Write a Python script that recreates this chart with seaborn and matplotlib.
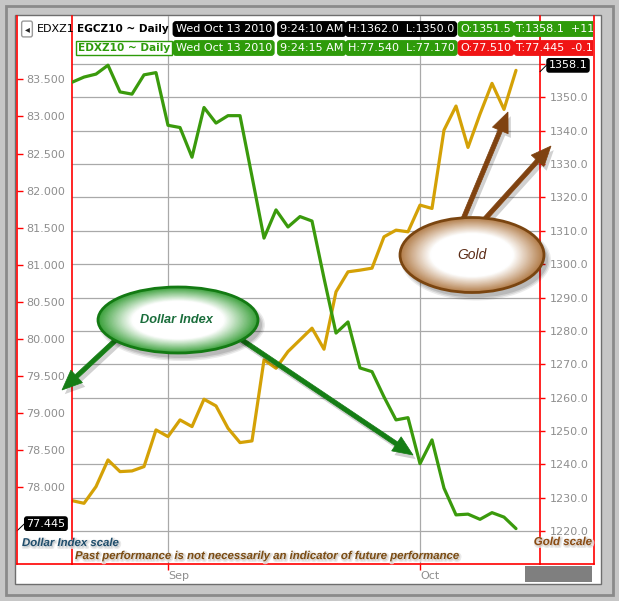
"""
Dollar Index vs Gold daily chart (Aug - Oct 2010), two price scales.
"""

import numpy as np
import pandas as pd
import matplotlib
matplotlib.use('Agg')
import matplotlib.pyplot as plt
import matplotlib.patheffects as pe
from matplotlib.patches import Ellipse, Rectangle
from matplotlib.colors import to_rgb
from matplotlib.transforms import blended_transform_factory, Bbox
import seaborn as sns

sns.set_style("white")
plt.rcParams['font.family'] = ['DejaVu Sans']

# ---- data ----
trade_dates = pd.bdate_range('2010-08-20', '2010-10-13').drop(pd.Timestamp('2010-09-06'))
dollar_index = [83.46, 83.53, 83.57, 83.69, 83.33, 83.30, 83.56, 83.59, 82.88, 82.85,
                82.45, 83.12, 82.91, 83.01, 83.01, 82.19, 81.36, 81.74, 81.51, 81.65,
                81.59, 80.82, 80.08, 80.23, 79.61, 79.56, 79.22, 78.91, 78.94, 78.32,
                78.64, 77.99, 77.63, 77.64, 77.57, 77.66, 77.60, 77.445]
gold_price = [1229.1, 1228.3, 1233.3, 1241.3, 1237.8, 1238.0, 1239.3, 1250.3, 1248.3, 1253.3,
              1251.3, 1259.5, 1257.5, 1250.8, 1246.5, 1247.0, 1271.3, 1268.8, 1273.8, 1277.3,
              1280.8, 1274.5, 1291.7, 1297.7, 1298.2, 1298.8, 1308.2, 1310.2, 1309.7, 1317.7,
              1316.7, 1340.2, 1347.4, 1335.0, 1345.0, 1354.2, 1346.4, 1358.1]
month_starts = ['2010-09-01', '2010-10-01']
month_labels = ['Sep', 'Oct']
gold_ticks = [1220, 1230, 1240, 1250, 1260, 1270, 1280, 1290, 1300, 1310, 1320, 1330, 1340, 1350, 1360]
dollar_ticks = [78.0, 78.5, 79.0, 79.5, 80.0, 80.5, 81.0, 81.5, 82.0, 82.5, 83.0, 83.5]

header_row1 = [('Wed Oct 13 2010', 'black'), ('9:24:10 AM', 'black'),
               ('H:1362.0  L:1350.0', 'black'), ('O:1351.5', '#2e9b0a'),
               ('T:1358.1  +11', '#2e9b0a')]
header_row2 = [('Wed Oct 13 2010', '#2e9b0a'), ('9:24:15 AM', '#2e9b0a'),
               ('H:77.540  L:77.170', '#2e9b0a'), ('O:77.510', '#f01414'),
               ('T:77.445  -0.1', '#f01414')]

GREEN = '#3a9a0c'
GOLD = '#d4a106'
TICK_GRAY = '#8e8e8e'
W, H = 619, 601
L, R, T, B = 72, 540, 16, 564

fig = plt.figure(figsize=(W / 100, H / 100), dpi=100, facecolor='#c6c6c6')

# window frame
bg = fig.add_axes([0, 0, 1, 1], zorder=0)
bg.set_xlim(0, W)
bg.set_ylim(H, 0)
bg.axis('off')
bg.add_patch(Rectangle((6, 6), W - 12, H - 12, fill=False, ec='#8a8a8a', lw=2))
bg.add_patch(Rectangle((15, 15), 586, 569, fc='white', ec='#6e6e6e', lw=1))
bg.add_patch(Rectangle((525, 566), 67, 16, fc='#7f7f7f', lw=0))

# main plot: gold on ax (right scale), dollar on twin (left scale)
ax = fig.add_axes([L / W, 1 - B / H, (R - L) / W, (B - T) / H], zorder=1)
ax.set_facecolor('none')
x = np.arange(len(trade_dates))
sns.lineplot(x=x, y=gold_price, ax=ax, color=GOLD, lw=2.3)
ax2 = ax.twinx()
ax2.set_zorder(2)
sns.lineplot(x=x, y=dollar_index, ax=ax2, color=GREEN, lw=2.3)

ax.set_xlim(0, 39)
ax.set_ylim(1210.1, 1374.4)
ax2.set_ylim(76.968, 84.353)
for a in (ax, ax2):
    a.set_xlabel('')
    a.set_ylabel('')

ax.yaxis.tick_right()
ax.set_yticks(gold_ticks)
ax.set_yticklabels([f'{v:.1f}' for v in gold_ticks[:-1]] + [''])
ax.tick_params(axis='y', right=True, left=False, labelright=True, labelleft=False,
               direction='out', length=3.6, width=1, color='red', pad=3.6,
               labelcolor=TICK_GRAY, labelsize=8)

ax2.yaxis.tick_left()
ax2.set_yticks(dollar_ticks)
ax2.set_yticklabels([f'{v:.3f}' for v in dollar_ticks])
ax2.tick_params(axis='y', left=True, right=False, labelleft=True, labelright=False,
                length=0, pad=5, labelcolor=TICK_GRAY, labelsize=8)

tick_pos = [trade_dates.get_loc(pd.Timestamp(d)) for d in month_starts]
ax.set_xticks(tick_pos)
ax.set_xticklabels(month_labels, ha='left')
ax.tick_params(axis='x', bottom=True, direction='out', length=4.3, width=1, color='red',
               pad=1, labelcolor=TICK_GRAY, labelsize=8)

ax.grid(True, color='#a9a9a9', lw=0.9)
ax2.grid(False)
for side in ('left', 'right', 'bottom'):
    ax.spines[side].set_color('red')
    ax.spines[side].set_linewidth(1.2)
ax.spines['top'].set_visible(False)
for s in ax2.spines.values():
    s.set_visible(False)

# scale margins
axl = fig.add_axes([17 / W, 1 - B / H, (L - 17) / W, (B - T) / H], sharey=ax2, zorder=1)
axr = fig.add_axes([R / W, 1 - B / H, (594 - R) / W, (B - T) / H], sharey=ax, zorder=1)
for a, keep in ((axl, ('left', 'bottom')), (axr, ('right', 'bottom'))):
    a.set_facecolor('none')
    for side, s in a.spines.items():
        s.set_visible(side in keep)
        s.set_color('red')
        s.set_linewidth(1.2)
    a.set_xticks([])
axl.tick_params(axis='y', left=True, right=False, labelleft=False, direction='in',
                length=4.3, width=1, color='red')
axr.tick_params(axis='y', left=False, right=False, labelleft=False, labelright=False)

# last value tags
tl = blended_transform_factory(axl.transAxes, axl.transData)
axl.text(0.17, dollar_index[-1], f'{dollar_index[-1]:.3f}', transform=tl, color='white',
         fontsize=8, ha='left', va='bottom',
         bbox=dict(fc='black', ec='black', boxstyle='round,pad=0.15,rounding_size=0.2'))
axl.plot([0, 0.17], [dollar_index[-1] - 0.03, dollar_index[-1] + 0.09], transform=tl,
         color='black', lw=0.7, clip_on=False)
tr = blended_transform_factory(axr.transAxes, axr.transData)
axr.text(0.16, gold_price[-1], f'{gold_price[-1]:.1f}', transform=tr, color='white',
         fontsize=8, ha='left', va='bottom',
         bbox=dict(fc='black', ec='black', boxstyle='round,pad=0.15,rounding_size=0.2'))
axr.plot([0, 0.16], [gold_price[-1] - 0.4, gold_price[-1] + 2.2], transform=tr,
         color='black', lw=0.7, clip_on=False)

# overlay for header and annotations (pixel coordinates)
ov = fig.add_axes([0, 0, 1, 1], zorder=5)
ov.set_xlim(0, W)
ov.set_ylim(H, 0)
ov.axis('off')
clip = Bbox.from_extents(0, 0, 593, H)

ov.text(27, 29, '\u25c2', ha='center', va='center', fontsize=7,
        bbox=dict(fc='white', ec='#9a9a9a', boxstyle='round,pad=0.3,rounding_size=0.2'))
ov.text(37, 29, 'EDXZ1', ha='left', va='center', fontsize=8, color='black')
ov.text(77, 29, 'EGCZ10 ~ Daily', ha='left', va='center', fontsize=7.6,
        fontweight='bold', color='black')
ov.text(78, 48, 'EDXZ10 ~ Daily', ha='left', va='center', fontsize=7.6,
        fontweight='bold', color='#2e9b0a',
        bbox=dict(fc='white', ec='#2e9b0a', boxstyle='square,pad=0.15'))

starts = [175.5, 280, 348, 460.5, 516.5]
for row_y, row in ((29, header_row1), (48, header_row2)):
    for x0, (label, col) in zip(starts, row):
        t = ov.text(x0, row_y, label, ha='left', va='center', fontsize=8, color='white',
                    bbox=dict(fc=col, ec=col, boxstyle='round,pad=0.2,rounding_size=0.25'))
        t.set_clip_box(clip)
        t.set_clip_on(True)


def mix(c1, c2, t):
    a, b = np.array(to_rgb(c1)), np.array(to_rgb(c2))
    return tuple(a * (1 - t) + b * t)


def bubble(cx, cy, w, h, edge, fill):
    for k, a in enumerate((0.08, 0.10, 0.12)):
        ov.add_patch(Ellipse((cx + 4, cy + 5), w + 6 - 3 * k, h + 6 - 3 * k,
                             fc='black', alpha=a, lw=0))
    n = 30
    for k in range(n):
        s = 1 - 0.5 * k / n
        tt = min(1.0, (1 - s) / 0.42)
        ov.add_patch(Ellipse((cx, cy), w * s, h * s, fc=mix(fill, 'white', tt), lw=0))
    ov.add_patch(Ellipse((cx, cy), w, h, fill=False, ec=edge, lw=2))


def arrow(x0, y0, x1, y1, col, head_w=17, head_l=20):
    ov.arrow(x0, y0, x1 - x0, y1 - y0, width=4.5, head_width=head_w, head_length=head_l,
             length_includes_head=True, fc=col, ec=col, lw=0.5,
             path_effects=[pe.withSimplePatchShadow(offset=(2, -3), shadow_rgbFace='black',
                                                    alpha=0.18)])


# faint grey smudge under the captions, as a soft drop shadow
smudge = [pe.Stroke(offset=(0.8, -1.0), linewidth=2.2, foreground='#e4e4e4', alpha=0.8),
          pe.Normal()]
cap = dict(family=['Liberation Sans'], fontweight='bold', fontstyle='italic', va='center')

# Dollar Index callout
arrow(118, 338, 62, 390, '#157d15')
arrow(236, 336, 413, 455, '#157d15')
bubble(178, 320, 160, 66, '#137a13', '#3aa03a')
ov.text(176, 320, 'Dollar Index', ha='center', fontsize=9.2, color='#1b6e3c', **cap)

# Gold callout
arrow(462, 222, 508, 112, '#7f4210')
arrow(484, 220, 551, 146, '#7f4210')
bubble(472, 255, 144, 75, '#7a4510', '#b27c48')
ov.text(472, 255, 'Gold', ha='center', va='center', fontsize=10,
        family=['Liberation Sans'], fontstyle='italic', color='#5c2c16')

# scale captions and disclaimer
ov.text(22, 543, 'Dollar Index scale', ha='left', fontsize=8.2, color='#1f4d6b',
        path_effects=smudge, **cap)
ov.text(592, 542, 'Gold scale', ha='right', fontsize=8.3, color='#8a4b12',
        path_effects=smudge, **cap)
ov.text(75, 556, 'Past performance is not necessarily an indicator of future performance',
        ha='left', fontsize=8.2, color='#7b4c13', path_effects=smudge, **cap)

fig.savefig('out.png', dpi=100, facecolor=fig.get_facecolor())
plt.close(fig)
